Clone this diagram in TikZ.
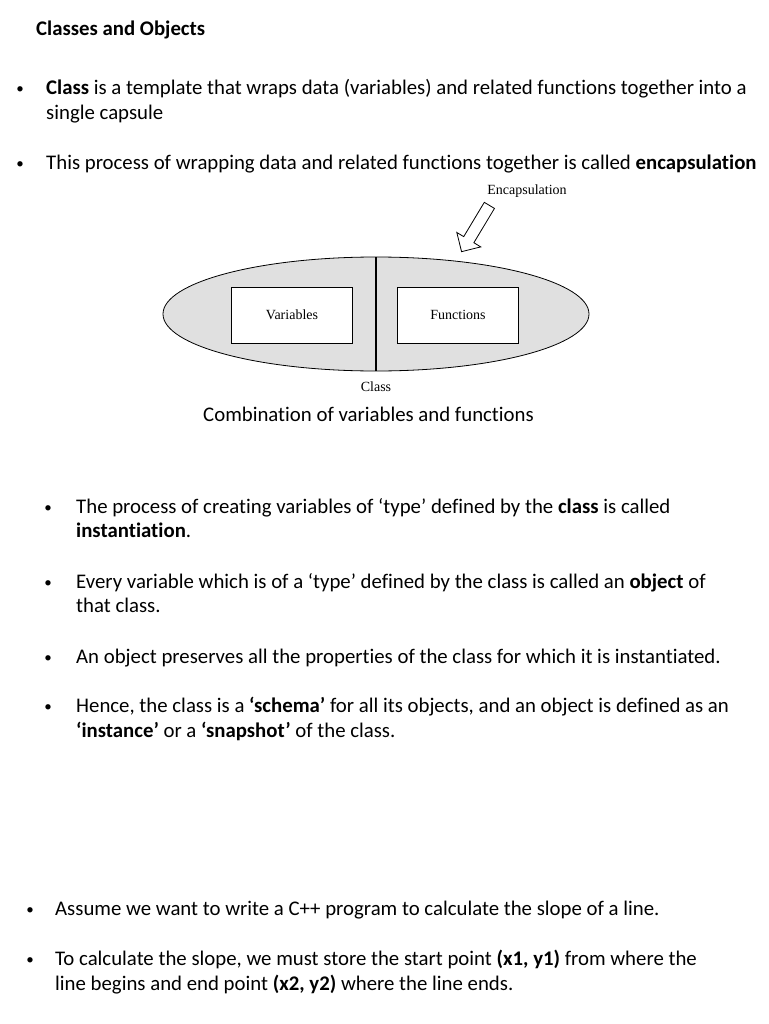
\documentclass[tikz,border=0pt]{standalone}
\usepackage{fontspec}
\setmainfont{Carlito}[Ligatures=NoCommon]
\newfontfamily\figfont{Liberation Serif}
\usetikzlibrary{shapes.arrows}
\tikzset{
  line/.style={anchor=base west,inner sep=0pt,font=\fontsize{20.8}{25}\selectfont},
  dot/.style={anchor=base,inner sep=0pt,font=\fontsize{15}{18}\selectfont},
  figtext/.style={inner sep=0pt,font=\figfont\fontsize{14}{16}\selectfont},
  partbox/.style={draw,fill=white,line width=0.8pt,minimum width=121pt,minimum height=56pt}
}
\begin{document}
\begin{tikzpicture}[x=1pt,y=-1pt]
\useasboundingbox (0,0) rectangle (768,1024);
\node[line] (title) at (36,36) {\textbf{Classes and Objects}};
%First bullets
\foreach \y/\x/\name in {95/20/b1,170/20/b2,513/48/b3,588/48/b4,663/48/b5,712/48/b6,915/30/b7,965/30/b8}
  \node[dot] (\name) at (\x,\y-1) {\textbullet};
\node[line] (t1a) at (46,95) {\textbf{Class} is a template that wraps data (variables) and related functions together into a};
\node[line] (t1b) at (46,120) {single capsule};
\node[line] (t2) at (46,170) {This process of wrapping data and related functions together is called \textbf{encapsulation}};
%Diagram
\draw[fill=black!12,line width=0.8pt] (376,314) ellipse [x radius=213,y radius=57];
\coordinate (ctop) at (376,257);
\coordinate (cbot) at (376,371);
\draw[line width=1.2pt] (ctop) -- (cbot);
\node[partbox] (vars) at (292,315) {};
\node[figtext] at (vars) {Variables};
\node[partbox] (funcs) at (458,315) {};
\node[figtext] at (funcs) {Functions};
\node[figtext,below=0pt] (classlbl) at (376,382) {Class};
\node[figtext] (enclbl) at (527,191) {Encapsulation};
\node[single arrow,draw,fill=white,line width=0.8pt,rotate=239,minimum height=54pt,minimum width=28pt,single arrow head extend=6pt,inner sep=4pt] (encarrow) at (477,226) {};
\node[line] (cap) at (203,421) {Combination of variables and functions};
%Second bullets
\node[line] (t3a) at (76,513) {The process of creating variables of `type' defined by the \textbf{class} is called};
\node[line] (t3b) at (76,537) {\textbf{instantiation}.};
\node[line] (t4a) at (76,588) {Every variable which is of a `type' defined by the class is called an \textbf{object} of};
\node[line] (t4b) at (76,612) {that class.};
\node[line] (t5) at (76,663) {An object preserves all the properties of the class for which it is instantiated.};
\node[line] (t6a) at (76,712) {Hence, the class is a \textbf{`schema'} for all its objects, and an object is defined as an};
\node[line] (t6b) at (76,737) {\textbf{`instance'} or a \textbf{`snapshot'} of the class.};
%Third bullets
\node[line] (t7) at (55,915) {Assume we want to write a C++ program to calculate the slope of a line.};
\node[line] (t8a) at (55,965) {To calculate the slope, we must store the start point \textbf{(x1, y1)} from where the};
\node[line] (t8b) at (55,990) {line begins and end point \textbf{(x2, y2)} where the line ends.};
\end{tikzpicture}
\end{document}
